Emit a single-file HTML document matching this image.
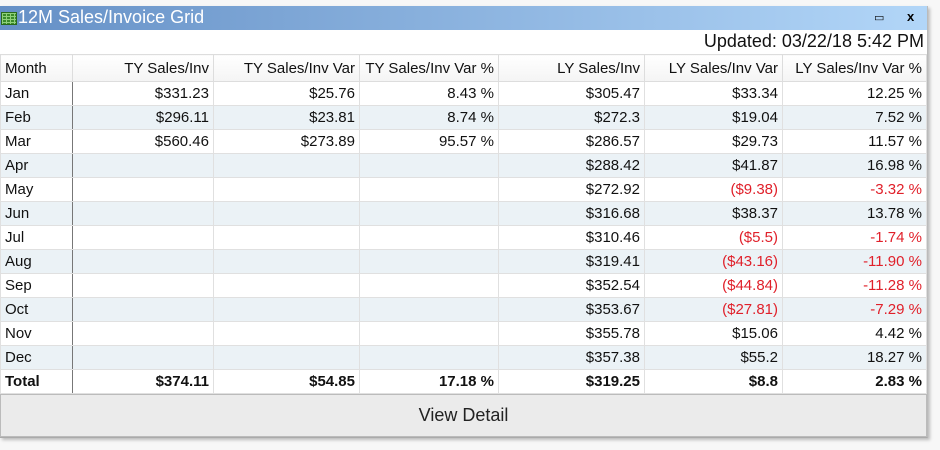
<!DOCTYPE html>
<html><head><meta charset="utf-8"><style>
body{margin:0;width:940px;height:450px;background:#f7f7f7;font-family:"Segoe UI","Liberation Sans",sans-serif;overflow:hidden;position:relative}
#win{position:absolute;left:0;top:6px;width:927px;height:431px;background:#fff;border-right:1px solid #bbb;border-bottom:1px solid #aaa;box-shadow:2px 2px 3px #bbb}
#title{position:absolute;left:0;top:0;width:927px;height:24px;background:linear-gradient(to right,#6590c6,#b2d6f8);color:#fff;font-size:18px;line-height:24px}
#title .t{position:absolute;left:18px;top:-1px}
#icon{position:absolute;left:1px;top:6px;width:14px;height:11px;background:#3a8a2a;border:1px solid #2a6a1a;background-image:linear-gradient(#8fd07a 1px,transparent 1px),linear-gradient(90deg,#8fd07a 1px,transparent 1px);background-size:4px 3px}
#upd{position:absolute;right:3px;top:25px;font-size:18px;color:#111}
table{position:absolute;left:0;top:48px;border-collapse:collapse;font-size:15px;color:#111;table-layout:fixed}
td{height:23px;padding:0 4px;border:1px solid #e0e0e0;text-align:right;white-space:nowrap;overflow:hidden}
td:first-child{text-align:left;border-right:1px solid #777}
tr.h td{height:26px;background:linear-gradient(#fff,#f4f4f4);border:1px solid #ddd}
tr.a td{background:#ebf2f6}
tr.tot td{font-weight:bold}
.r{color:#e0202a}
#btn{position:absolute;left:0;top:388px;width:925px;height:41px;background:#ebebeb;border:1px solid #bbb;font-size:18px;text-align:center;line-height:41px;color:#222}
</style></head><body>
<div id="win">
<div id="title"><div id="icon"></div><span class="t">12M Sales/Invoice Grid</span><span style="position:absolute;left:874px;top:0;color:#000;font-size:11px">▭</span><span style="position:absolute;left:907px;top:-1px;color:#000;font-size:13px;font-weight:bold">x</span></div>
<div id="upd">Updated: 03/22/18 5:42 PM</div>
<table>
<colgroup><col style="width:72px"><col style="width:141px"><col style="width:146px"><col style="width:139px"><col style="width:146px"><col style="width:138px"><col style="width:144px"></colgroup>
<tr class="h"><td style="border-right:1px solid #ddd">Month</td><td>TY Sales/Inv</td><td>TY Sales/Inv Var</td><td>TY Sales/Inv Var %</td><td>LY Sales/Inv</td><td>LY Sales/Inv Var</td><td>LY Sales/Inv Var %</td></tr>
<tr><td>Jan</td><td>$331.23</td><td>$25.76</td><td>8.43 %</td><td>$305.47</td><td>$33.34</td><td>12.25 %</td></tr>
<tr class="a"><td>Feb</td><td>$296.11</td><td>$23.81</td><td>8.74 %</td><td>$272.3</td><td>$19.04</td><td>7.52 %</td></tr>
<tr><td>Mar</td><td>$560.46</td><td>$273.89</td><td>95.57 %</td><td>$286.57</td><td>$29.73</td><td>11.57 %</td></tr>
<tr class="a"><td>Apr</td><td></td><td></td><td></td><td>$288.42</td><td>$41.87</td><td>16.98 %</td></tr>
<tr><td>May</td><td></td><td></td><td></td><td>$272.92</td><td class="r">($9.38)</td><td class="r">-3.32 %</td></tr>
<tr class="a"><td>Jun</td><td></td><td></td><td></td><td>$316.68</td><td>$38.37</td><td>13.78 %</td></tr>
<tr><td>Jul</td><td></td><td></td><td></td><td>$310.46</td><td class="r">($5.5)</td><td class="r">-1.74 %</td></tr>
<tr class="a"><td>Aug</td><td></td><td></td><td></td><td>$319.41</td><td class="r">($43.16)</td><td class="r">-11.90 %</td></tr>
<tr><td>Sep</td><td></td><td></td><td></td><td>$352.54</td><td class="r">($44.84)</td><td class="r">-11.28 %</td></tr>
<tr class="a"><td>Oct</td><td></td><td></td><td></td><td>$353.67</td><td class="r">($27.81)</td><td class="r">-7.29 %</td></tr>
<tr><td>Nov</td><td></td><td></td><td></td><td>$355.78</td><td>$15.06</td><td>4.42 %</td></tr>
<tr class="a"><td>Dec</td><td></td><td></td><td></td><td>$357.38</td><td>$55.2</td><td>18.27 %</td></tr>
<tr class="tot"><td>Total</td><td>$374.11</td><td>$54.85</td><td>17.18 %</td><td>$319.25</td><td>$8.8</td><td>2.83 %</td></tr>
</table>
<div id="btn">View Detail</div>
</div>
</body></html>
